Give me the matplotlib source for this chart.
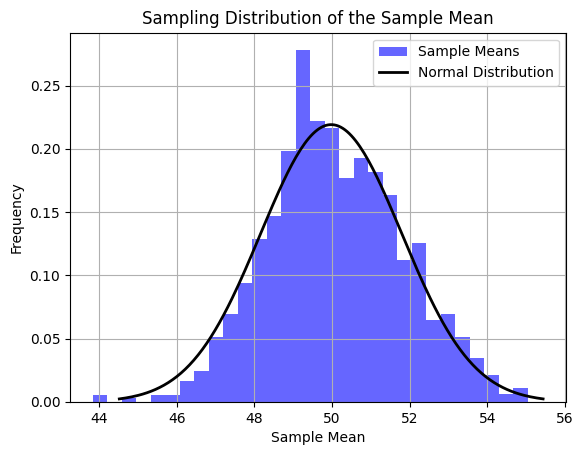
import numpy as np
import matplotlib
matplotlib.use("Agg")
import matplotlib.pyplot as plt

# histogram (30 bins, density scale)
bin_start = 43.83
bin_width = 0.374
densities = [0.0056, 0.0, 0.0035, 0.0, 0.0056, 0.0056, 0.0168, 0.0247, 0.0513, 0.0695,
             0.0939, 0.1287, 0.1471, 0.1982, 0.2779, 0.2221, 0.2166, 0.1771, 0.1926, 0.1816,
             0.1637, 0.1124, 0.1258, 0.0647, 0.0695, 0.0513, 0.0347, 0.0213, 0.0065, 0.0110]

# fitted normal curve
mu = 49.98
sigma = 1.82

edges = bin_start + bin_width * np.arange(len(densities) + 1)

fig = plt.figure(figsize=(5.82, 4.55), dpi=100)
ax = fig.add_axes([0.1203, 0.1165, 0.8522, 0.8115])

ax.hist(edges[:-1], bins=edges, weights=densities, color="blue", alpha=0.6,
        label="Sample Means")

x = np.linspace(mu - 3 * sigma, mu + 3 * sigma, 200)
pdf = np.exp(-0.5 * ((x - mu) / sigma) ** 2) / (sigma * np.sqrt(2 * np.pi))
ax.plot(x, pdf, "k", linewidth=2, label="Normal Distribution")

ax.set_xlim(43.25, 56.03)
ax.set_title("Sampling Distribution of the Sample Mean")
ax.set_xlabel("Sample Mean")
ax.set_ylabel("Frequency")
ax.legend(loc="upper right")
ax.grid(True)

fig.savefig("out.png", dpi=100)
